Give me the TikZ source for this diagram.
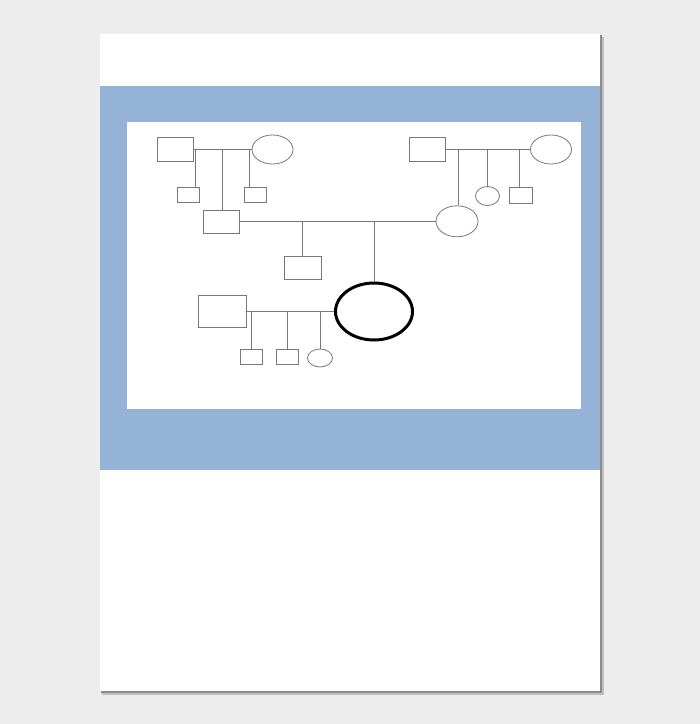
\documentclass[tikz,border=0pt]{standalone}
\usetikzlibrary{shapes.geometric}
\definecolor{bggray}{RGB}{237,237,237}
\definecolor{bandblue}{RGB}{149,179,215}
\definecolor{linegray}{RGB}{120,120,120}
\begin{document}
\begin{tikzpicture}[x=1pt,y=-1pt,
  box/.style={draw=linegray, line width=0.8pt, fill=white, rectangle, inner sep=0pt},
  oval/.style={draw=linegray, line width=0.8pt, fill=white, ellipse, inner sep=0pt},
  link/.style={draw=linegray, line width=0.8pt}]
\useasboundingbox (0,0) rectangle (700,724);
\fill[bggray] (0,0) rectangle (700,724);
% page shadow
\fill[black!25] (102,37) rectangle (604,695);
\fill[black!45] (101,35) rectangle (602,693);
\fill[white] (100,34) rectangle (600,691);
\fill[bandblue] (100,86) rectangle (600,470);
\fill[white] (127,122) rectangle (581,409);
% top-left couple
\node[box, minimum width=36pt, minimum height=24pt] (A) at (175,149) {};
\node[oval, minimum width=41pt, minimum height=29pt] (B) at (272.5,149.5) {};
\node[box, minimum width=22pt, minimum height=15pt] (s1) at (188,194.5) {};
\node[box, minimum width=22pt, minimum height=15pt] (s2) at (255.5,194.5) {};
\node[box, minimum width=36pt, minimum height=23pt] (M) at (221,221.5) {};
\draw[link] (A.east |- 0,149) -- (B.west |- 0,149);
\coordinate (c1) at (195,149);
\coordinate (c2) at (222,149);
\coordinate (c3) at (249,149);
\draw[link] (c1) -- (c1 |- s1.north);
\draw[link] (c2) -- (c2 |- M.north);
\draw[link] (c3) -- (c3 |- s2.north);
% top-right couple
\node[box, minimum width=36pt, minimum height=24pt] (R) at (427,149) {};
\node[oval, minimum width=41pt, minimum height=29pt] (RE) at (551,149.5) {};
\node[oval, minimum width=24pt, minimum height=19pt] (t1) at (487.5,196) {};
\node[box, minimum width=23pt, minimum height=16pt] (t2) at (520.5,195) {};
\node[oval, minimum width=42pt, minimum height=31pt] (W) at (457,221.3) {};
\draw[link] (R.east |- 0,149) -- (RE.west |- 0,149);
\coordinate (d1) at (458,149);
\coordinate (d2) at (487.5,149);
\coordinate (d3) at (519,149);
\draw[link] (d1) -- (d1 |- W.north);
\draw[link] (d2) -- (t1.north);
\draw[link] (d3) -- (d3 |- t2.north);
% middle couple
\node[box, minimum width=37pt, minimum height=23pt] (L) at (302.5,267.5) {};
\node[draw=black, line width=3pt, fill=white, ellipse, inner sep=0pt, minimum width=77pt, minimum height=57pt] (P) at (374,311.5) {};
\draw[link] (M.east |- 0,221) -- (W.west |- 0,221);
\coordinate (e1) at (302.5,221);
\coordinate (e2) at (374,221);
\draw[link] (e1) -- (L.north);
\draw[link] (e2) -- (P.north);
% bottom couple
\node[box, minimum width=48pt, minimum height=32pt] (H) at (222,311) {};
\node[box, minimum width=22pt, minimum height=15pt] (k1) at (251,356.5) {};
\node[box, minimum width=22pt, minimum height=15pt] (k2) at (287.5,356.5) {};
\node[oval, minimum width=25pt, minimum height=18pt] (k3) at (320,358) {};
\draw[link] (H.east |- 0,311) -- (P.west |- 0,311);
\coordinate (f1) at (251,311);
\coordinate (f2) at (287.5,311);
\coordinate (f3) at (320,311);
\draw[link] (f1) -- (k1.north);
\draw[link] (f2) -- (k2.north);
\draw[link] (f3) -- (k3.north);
\end{tikzpicture}
\end{document}
